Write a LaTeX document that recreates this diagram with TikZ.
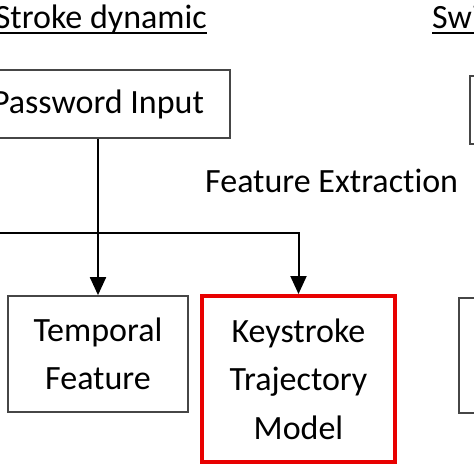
\documentclass[tikz,border=0pt]{standalone}
\usepackage{fontspec}
\setmainfont[Ligatures={NoCommon}]{Carlito}
\usetikzlibrary{arrows.meta}
\definecolor{boxgray}{RGB}{70,70,70}
\definecolor{hired}{RGB}{232,0,0}
\begin{document}
\begin{tikzpicture}[x=1pt,y=-1pt,
  every node/.style={font=\fontsize{34}{48.5}\selectfont, text=black},
  plainbox/.style={draw=boxgray, line width=1.7pt, rectangle, inner sep=0pt, align=center},
  redbox/.style={draw=hired, line width=4pt, rectangle, inner sep=0pt, align=center},
  flow/.style={draw=black, line width=2pt, -{Triangle[length=18pt,width=16pt]}},
  uline/.style={draw=black, line width=1.8pt}
]
\useasboundingbox (0,0) rectangle (474,474);
\clip (0,0) rectangle (474,474);
\fill[white] (0,0) rectangle (474,474);

% headings
\node[anchor=base east, inner sep=0pt] (sd) at (207,28) {Stroke dynamic};
\draw[uline] ([yshift=-5pt]sd.base west) -- ([yshift=-5pt]sd.base east);
\node[anchor=base west, inner sep=0pt] (sw) at (432,28) {Swi};
\coordinate (swend) at (480,33);
\draw[uline] ([yshift=-5pt]sw.base west) -- (swend);

% boxes
\node[plainbox, minimum width=264pt, minimum height=68pt] (pw) at (98,104) {Password Input};
\node[plainbox, minimum width=180pt, minimum height=116pt] (tf) at (98,354) {Temporal\\Feature};
\node[redbox, minimum width=193pt, minimum height=166pt] (ks) at (298.5,379) {Keystroke\\Trajectory\\Model};
\node[plainbox, minimum width=60pt, minimum height=68pt, anchor=north west] (rb1) at (469,75) {};
\node[plainbox, minimum width=60pt, minimum height=115pt, anchor=north west] (rb2) at (458,297) {};

% label
\node[anchor=base west, inner sep=0pt] (fe) at (205,192) {Feature Extraction};

% connectors
\draw[flow] (pw.south) -- (tf.north);
\coordinate (hstart) at (-10,233);
\draw[flow] (hstart) -| (ks.north);
\end{tikzpicture}
\end{document}
